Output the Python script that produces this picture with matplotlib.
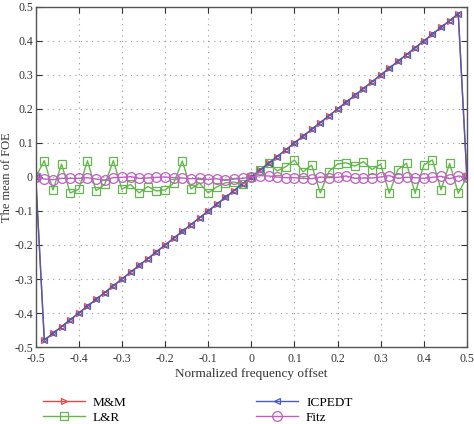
import numpy as np
import matplotlib
matplotlib.use('Agg')
import matplotlib.pyplot as plt

plt.rcParams['font.family'] = ['Liberation Serif', 'DejaVu Serif']
plt.rcParams['axes.unicode_minus'] = False

# normalized frequency offset (x axis)
offset = [-0.50, -0.48, -0.46, -0.44, -0.42, -0.40, -0.38, -0.36, -0.34, -0.32,
          -0.30, -0.28, -0.26, -0.24, -0.22, -0.20, -0.18, -0.16, -0.14, -0.12,
          -0.10, -0.08, -0.06, -0.04, -0.02, 0.00, 0.02, 0.04, 0.06, 0.08,
          0.10, 0.12, 0.14, 0.16, 0.18, 0.20, 0.22, 0.24, 0.26, 0.28,
          0.30, 0.32, 0.34, 0.36, 0.38, 0.40, 0.42, 0.44, 0.46, 0.48, 0.50]

mm = [0.00, -0.48, -0.46, -0.44, -0.42, -0.40, -0.38, -0.36, -0.34, -0.32,
      -0.30, -0.28, -0.26, -0.24, -0.22, -0.20, -0.18, -0.16, -0.14, -0.12,
      -0.10, -0.08, -0.06, -0.04, -0.02, 0.00, 0.02, 0.04, 0.06, 0.08,
      0.10, 0.12, 0.14, 0.16, 0.18, 0.20, 0.22, 0.24, 0.26, 0.28,
      0.30, 0.32, 0.34, 0.36, 0.38, 0.40, 0.42, 0.44, 0.46, 0.48, 0.00]

icpedt = [0.00, -0.48, -0.46, -0.44, -0.42, -0.40, -0.38, -0.36, -0.34, -0.32,
          -0.30, -0.28, -0.26, -0.24, -0.22, -0.20, -0.18, -0.16, -0.14, -0.12,
          -0.10, -0.08, -0.06, -0.04, -0.02, 0.00, 0.02, 0.04, 0.06, 0.08,
          0.10, 0.12, 0.14, 0.16, 0.18, 0.20, 0.22, 0.24, 0.26, 0.28,
          0.30, 0.32, 0.34, 0.36, 0.38, 0.40, 0.42, 0.44, 0.46, 0.48, 0.00]

lr = [0.000, 0.048, -0.038, 0.038, -0.047, -0.036, 0.048, -0.040, -0.022, 0.048,
      -0.036, -0.022, -0.047, -0.028, -0.041, -0.038, -0.018, 0.047, -0.035, -0.018,
      -0.047, -0.029, -0.017, -0.015, -0.020, 0.000, 0.020, 0.040, 0.018, 0.030,
      0.050, 0.015, 0.035, -0.047, 0.016, 0.038, 0.042, 0.032, 0.045, 0.022,
      0.038, -0.048, 0.022, 0.040, -0.048, 0.035, 0.050, -0.038, 0.040, -0.048, 0.000]

fitz = [0.000, -0.006, -0.008, -0.004, -0.004, -0.004, -0.002, -0.006, -0.009, -0.002,
        -0.001, 0.001, -0.004, -0.003, -0.001, 0.000, -0.002, -0.003, -0.005, -0.004,
        -0.007, -0.005, -0.010, -0.006, -0.004, 0.000, 0.004, 0.003, 0.000, -0.002,
        -0.002, -0.004, -0.005, 0.000, -0.002, -0.001, 0.003, -0.004, -0.003, -0.003,
        0.000, 0.004, -0.004, -0.001, -0.002, -0.004, -0.001, 0.002, -0.005, 0.003, 0.000]

xticks = [-0.5, -0.4, -0.3, -0.2, -0.1, 0, 0.1, 0.2, 0.3, 0.4, 0.5]
xlabels = ['-0.5', '-0.4', '-0.3', '-0.2', '-0.1', '0', '0.1', '0.2', '0.3', '0.4', '0.5']
yticks = [-0.5, -0.4, -0.3, -0.2, -0.1, 0, 0.1, 0.2, 0.3, 0.4, 0.5]
ylabels = ['-0.5', '-0.4', '-0.3', '-0.2', '-0.1', '0', '0.1', '0.2', '0.3', '0.4', '0.5']

fig = plt.figure(figsize=(4.74, 4.24), dpi=100)
ax = fig.add_axes([0.0753, 0.1816, 0.9097, 0.8019])

ax.plot(offset, mm, color='#e8474a', lw=1.0, marker='>', ms=5, mfc='none', mew=0.9, label='M&M')
ax.plot(offset, lr, color='#62b84a', lw=1.0, marker='s', ms=5.5, mfc='none', mew=0.9, label='L&R')
ax.plot(offset, icpedt, color='#4a5cb5', lw=1.0, marker='<', ms=5, mfc='none', mew=0.9, label='ICPEDT')
ax.plot(offset, fitz, color='#c15ec4', lw=1.0, marker='o', ms=7, mfc='none', mew=0.9, label='Fitz')

ax.set_xlim(-0.5, 0.5)
ax.set_ylim(-0.5, 0.5)
ax.set_xticks(xticks)
ax.set_xticklabels(xlabels)
ax.set_yticks(yticks)
ax.set_yticklabels(ylabels)
ax.tick_params(direction='in', top=True, right=True, labelsize=8.5, length=4,
               colors='#333333')
ax.tick_params(axis='y', pad=2)
ax.tick_params(axis='x', pad=4.5)
ax.grid(True, linestyle=(0, (1, 4)), color='#999999', lw=0.8)
for s in ax.spines.values():
    s.set_color('#555555')
    s.set_linewidth(1.0)

ax.set_xlabel('Normalized frequency offset', fontsize=9.5, color='#333333', labelpad=2)
ax.set_ylabel('The mean of FOE', fontsize=9, color='#333333', labelpad=1)

fig.legend(loc='upper left', bbox_to_anchor=(0.065, 0.093), ncol=2, frameon=False,
           fontsize=9.5, handlelength=3.2, columnspacing=9.8, labelspacing=0.2,
           handletextpad=0.6)

fig.savefig('out.png', dpi=100)
